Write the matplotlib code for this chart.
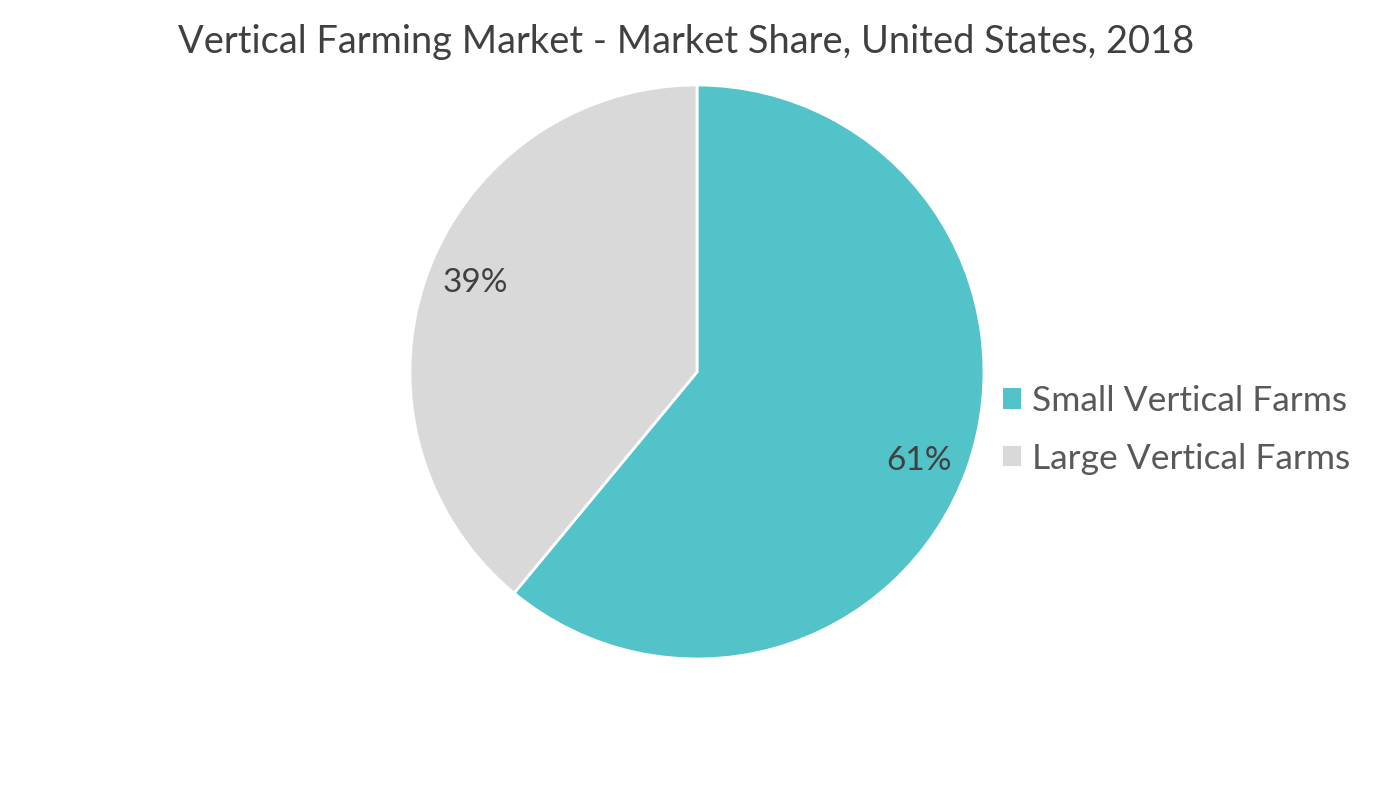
import matplotlib.pyplot as plt
from matplotlib.patches import Patch

# --- Data ---
labels = ['Small Vertical Farms', 'Large Vertical Farms']
shares = [61, 39]
colors = ['#52c3c8', '#d9d9d9']

plt.rcParams['font.family'] = ['Lato', 'DejaVu Sans']

W, H = 1373, 792
fig = plt.figure(figsize=(W / 100, H / 100), dpi=100)

# pie centre (697, 372) px, radius 287 px
cx, cy, r = 697, 372, 287
ax = fig.add_axes([(cx - r) / W, 1 - (cy + r) / H, 2 * r / W, 2 * r / H])

wedges, texts, autotexts = ax.pie(
    shares, colors=colors, startangle=90, counterclock=False,
    autopct='%d%%', pctdistance=0.835, radius=1,
    wedgeprops=dict(edgecolor='white', linewidth=2),
    textprops=dict(fontsize=24, color='#404040'))
# nudge labels slightly, as in the original
for t in autotexts:
    x, y = t.get_position()
    t.set_position((x * 0.985, y * 1.1))
ax.set_xlim(-1, 1)
ax.set_ylim(-1, 1)
ax.set_aspect('equal')

fig.text(686 / W, 1 - 42 / H, 'Vertical Farming Market - Market Share, United States, 2018',
         ha='center', va='center', fontsize=27.4, color='#404040')

handles = [Patch(facecolor=c, edgecolor='none') for c in colors]
fig.legend(handles, labels, loc='center left', bbox_to_anchor=(1003 / W, 1 - 430 / H),
           frameon=False, fontsize=25.5, labelcolor='#595959', borderpad=0, borderaxespad=0,
           handlelength=0.5, handleheight=0.5, handletextpad=0.32, labelspacing=0.73)

fig.savefig('out.png', dpi=100)
